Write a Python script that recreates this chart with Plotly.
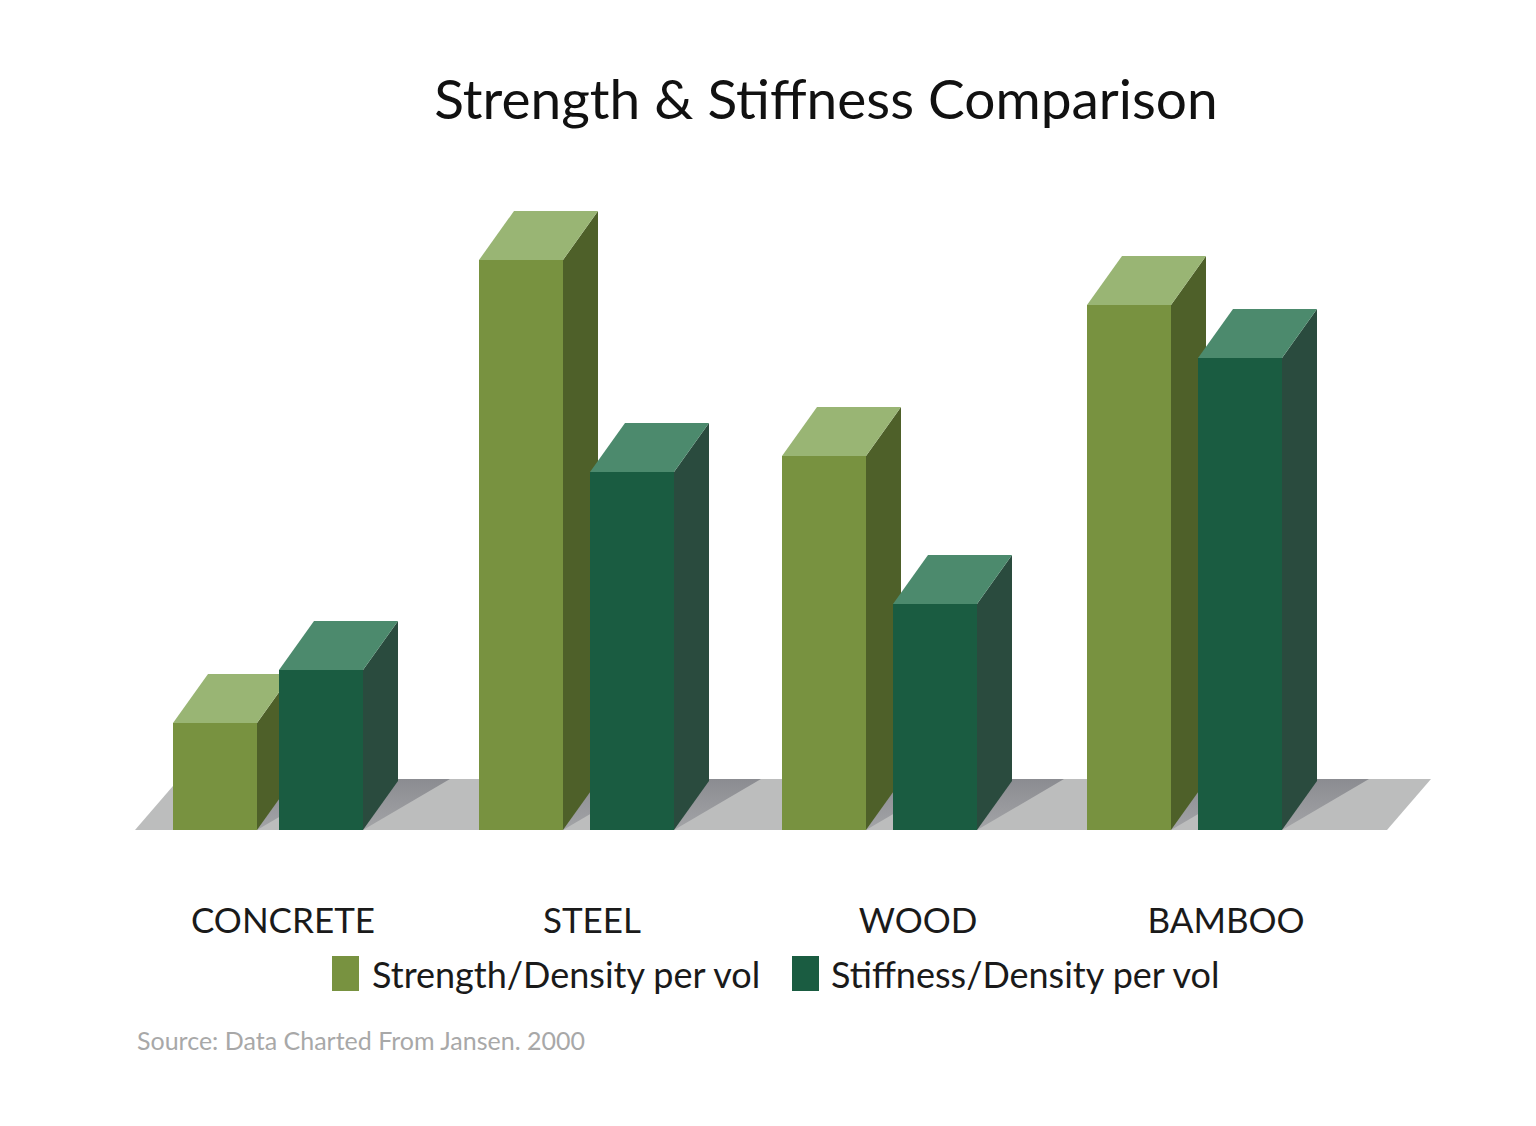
import plotly.graph_objects as go

materials = ['CONCRETE', 'STEEL', 'WOOD', 'BAMBOO']
strength_vals = [107, 570, 374, 525]
stiffness_vals = [160, 358, 226, 472]

series_names = ['Strength/Density per vol', 'Stiffness/Density per vol']

# left edge of each front face, in page pixels along the x axis
strength_left = [173, 479, 782, 1087]
stiffness_left = [279, 590, 893, 1198]
label_x = [283, 592, 918, 1226]

BAR_W = 84
DX = 35
DY = 49
FLOOR_L = 135
FLOOR_R = 1387
FLOOR_DX = 44
FLOOR_DY = 51

GREEN = dict(front='#789240', side='#4e6029', top='#99b574')
TEAL = dict(front='#1a5c41', side='#2a4b3e', top='#4c8a6d')

# the page has an 8px body margin, so the figure starts 8px in
PAD = 8
W = 1520
H = 1110
BASE_Y = 830
TOP_Y = 160
PLOT_H = BASE_Y - TOP_Y


def px(x):
    return (x - PAD) / W


def py(y):
    return (BASE_Y - y) / PLOT_H


fig = go.Figure()


def poly(xs, ys, color):
    fig.add_trace(go.Scatter(x=xs + xs[:1], y=ys + ys[:1], mode='lines', fill='toself',
                             fillcolor=color, line=dict(width=0), hoverinfo='skip',
                             showlegend=False))


def shadow(x0):
    r = x0 + BAR_W
    fig.add_trace(go.Scatter(x=[r, r + DX, r + 87, r], y=[0, FLOOR_DY, FLOOR_DY, 0],
                             mode='lines', fill='toself', line=dict(width=0),
                             fillgradient=dict(type='vertical',
                                               colorscale=[[0, '#a3a4a7'], [1, '#8b8c91']]),
                             hoverinfo='skip', showlegend=False))


def bar3d(x0, val, colors):
    r = x0 + BAR_W
    poly([r, r + DX, r + DX, r], [0, DY, val + DY, val], colors['side'])
    poly([x0, r, r + DX, x0 + DX], [val, val, val + DY, val + DY], colors['top'])
    poly([x0, r, r, x0], [0, 0, val, val], colors['front'])


poly([FLOOR_L, FLOOR_R, FLOOR_R + FLOOR_DX, FLOOR_L + FLOOR_DX],
     [0, 0, FLOOR_DY, FLOOR_DY], '#bcbdbd')

for left1, left2 in zip(strength_left, stiffness_left):
    shadow(left1)
    shadow(left2)

for left1, val1, left2, val2 in zip(strength_left, strength_vals, stiffness_left, stiffness_vals):
    bar3d(left1, val1, GREEN)
    bar3d(left2, val2, TEAL)

text_font = 'Lato, sans-serif'

annotations = [
    dict(x=px(370), y=py(974), text=series_names[0], font=dict(size=36, color='#1a1a1a')),
    dict(x=px(829), y=py(974), text=series_names[1], font=dict(size=36, color='#1a1a1a')),
    dict(x=px(135), y=py(1040), text='Source: Data Charted From Jansen. 2000',
         font=dict(size=25, color='#a8a8a8')),
]
for a in annotations:
    a.update(xref='paper', yref='paper', xanchor='left', yanchor='middle', showarrow=False)

shapes = []
for sx, c in [(332, GREEN['front']), (792, TEAL['front'])]:
    shapes.append(dict(type='rect', xref='paper', yref='paper', x0=px(sx), x1=px(sx + 27),
                       y0=py(991), y1=py(956), fillcolor=c, line=dict(width=0)))

fig.update_layout(
    width=W, height=H,
    autosize=False,
    margin=dict(l=0, r=0, t=TOP_Y - PAD, b=H - (BASE_Y - PAD)),
    paper_bgcolor='white',
    plot_bgcolor='white',
    showlegend=False,
    font=dict(family=text_font, color='#1a1a1a'),
    title=dict(text='Strength & Stiffness Comparison', x=px(826), xanchor='center',
               xref='paper', y=1 - (100 - PAD) / H, yanchor='middle', yref='container',
               font=dict(size=55, color='#111111')),
    annotations=annotations,
    shapes=shapes,
    xaxis=dict(range=[PAD, PAD + W], tickmode='array', tickvals=label_x, ticktext=materials,
               ticks='outside', ticklen=60, tickcolor='rgba(0,0,0,0)', showgrid=False,
               showline=False, zeroline=False, tickfont=dict(size=35, color='#1a1a1a')),
    yaxis=dict(range=[0, PLOT_H], visible=False),
)

fig.write_html('out.html')
